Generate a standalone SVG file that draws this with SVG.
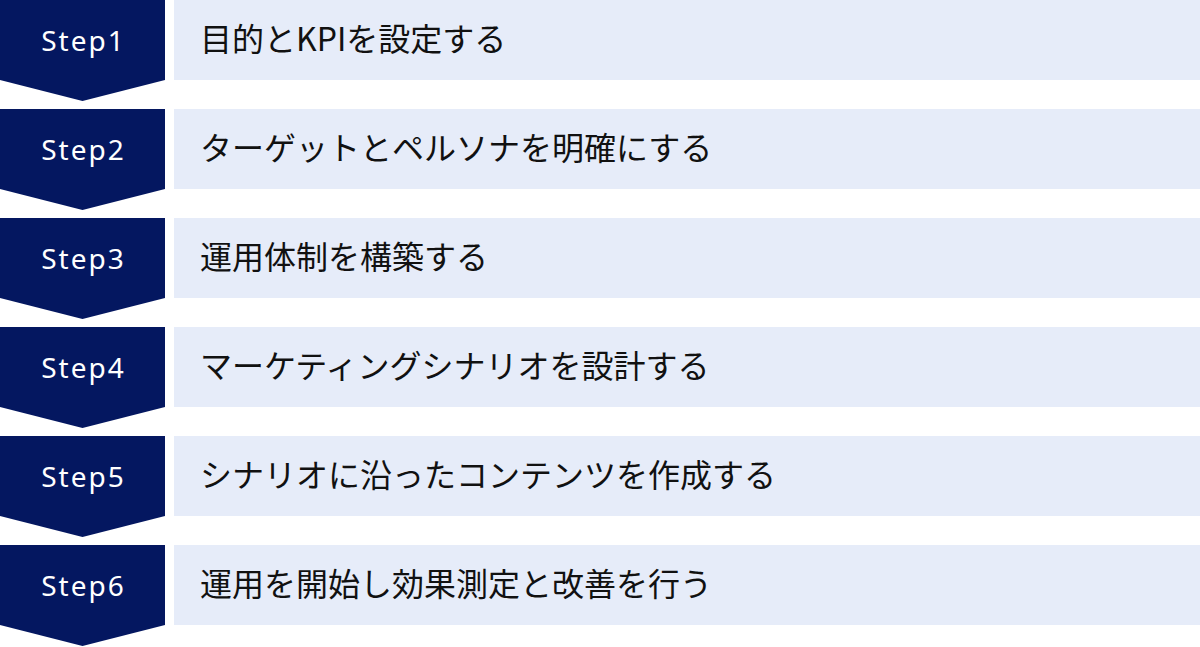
<svg xmlns="http://www.w3.org/2000/svg" width="1200" height="647" viewBox="0 0 1200 647">
<style>
.badge{fill:#041760}
.bar{fill:#E6ECF9}
.st{font-family:"Noto Sans","DejaVu Sans",sans-serif;font-size:28px;letter-spacing:2px;fill:#FFFFFF;text-anchor:middle}
.tx{font-family:"Noto Sans CJK JP","Noto Sans",sans-serif;font-size:32px;fill:#111111}
</style>
<rect width="1200" height="647" fill="#FFFFFF"/>
<g id="step1" transform="translate(0,0)">
<polygon class="badge" points="0,0 165,0 165,80 82.5,101 0,80"/>
<rect class="bar" x="174" y="0" width="1026" height="80"/>
<text class="st" x="83.5" y="51">Step1</text>
<text class="tx" x="200" y="51">目的とKPIを設定する</text>
</g>
<g id="step2" transform="translate(0,109)">
<polygon class="badge" points="0,0 165,0 165,80 82.5,101 0,80"/>
<rect class="bar" x="174" y="0" width="1026" height="80"/>
<text class="st" x="83.5" y="51">Step2</text>
<text class="tx" x="200" y="51">ターゲットとペルソナを明確にする</text>
</g>
<g id="step3" transform="translate(0,218)">
<polygon class="badge" points="0,0 165,0 165,80 82.5,101 0,80"/>
<rect class="bar" x="174" y="0" width="1026" height="80"/>
<text class="st" x="83.5" y="51">Step3</text>
<text class="tx" x="200" y="51">運用体制を構築する</text>
</g>
<g id="step4" transform="translate(0,327)">
<polygon class="badge" points="0,0 165,0 165,80 82.5,101 0,80"/>
<rect class="bar" x="174" y="0" width="1026" height="80"/>
<text class="st" x="83.5" y="51">Step4</text>
<text class="tx" x="200" y="51">マーケティングシナリオを設計する</text>
</g>
<g id="step5" transform="translate(0,436)">
<polygon class="badge" points="0,0 165,0 165,80 82.5,101 0,80"/>
<rect class="bar" x="174" y="0" width="1026" height="80"/>
<text class="st" x="83.5" y="51">Step5</text>
<text class="tx" x="200" y="51">シナリオに沿ったコンテンツを作成する</text>
</g>
<g id="step6" transform="translate(0,545)">
<polygon class="badge" points="0,0 165,0 165,80 82.5,101 0,80"/>
<rect class="bar" x="174" y="0" width="1026" height="80"/>
<text class="st" x="83.5" y="51">Step6</text>
<text class="tx" x="200" y="51">運用を開始し効果測定と改善を行う</text>
</g>
<g id="connectors"></g>
</svg>
